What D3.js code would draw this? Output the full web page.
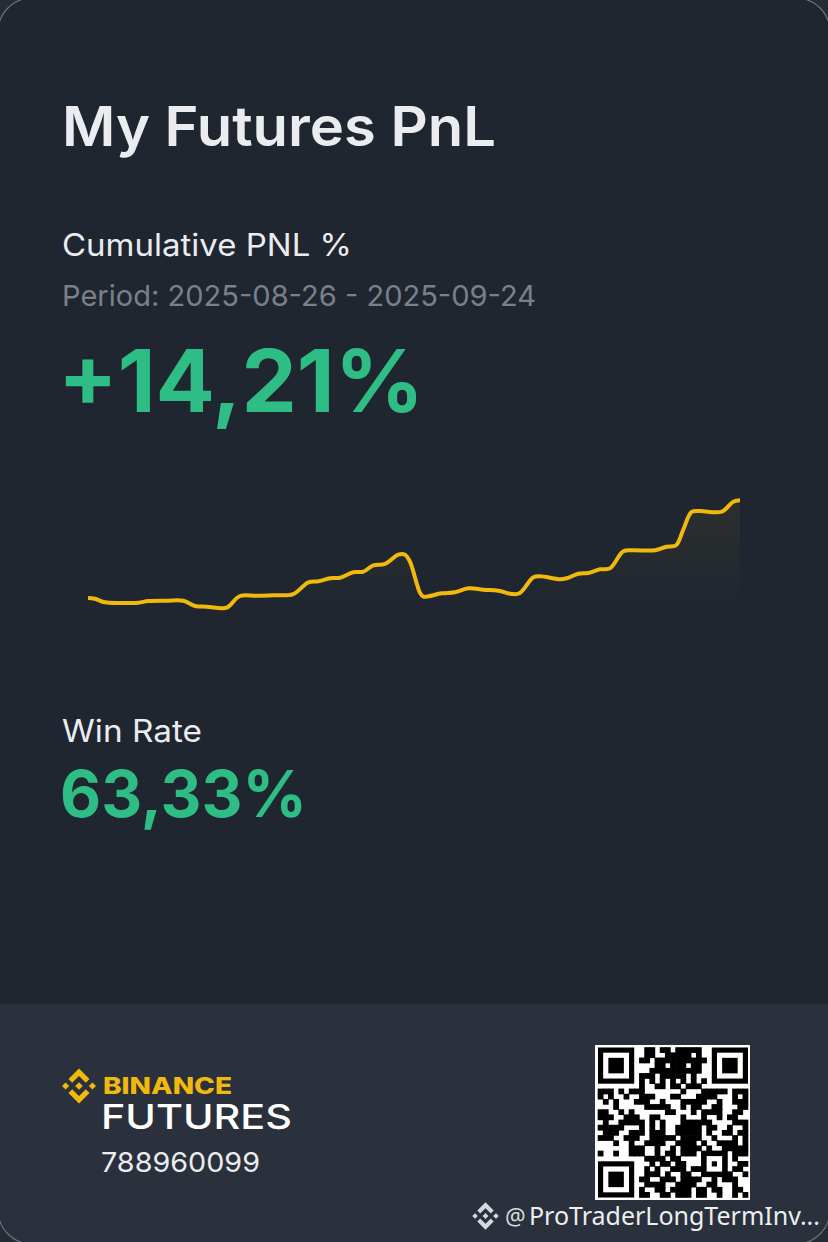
<!DOCTYPE html>
<html><head><meta charset="utf-8">
<script src="https://cdn.jsdelivr.net/npm/d3@7"></script>
<style>html,body{margin:0;padding:0;background:#262c35;overflow:hidden}svg{display:block}</style>
</head><body><svg id="c" width="828" height="1242" xmlns="http://www.w3.org/2000/svg"></svg>
<script>
const titleText = "My Futures PnL";
const metricLabel = "Cumulative PNL %";
const periodLabel = "Period: 2025-08-26 - 2025-09-24";
const pnlLabel = "+14,21%";
const winLabel = "Win Rate";
const winValue = "63,33%";
const brandTop = "BINANCE";
const brandBottom = "FUTURES";
const accountId = "788960099";
const watermark = "ProTraderLongTermInv...";
// days since the period start, and the cumulative PnL % read at that spot of the curve
const pnlDays = [0,.3,.75,1.42,2.24,2.68,3.5,4.24,4.76,5.28,5.8,6.17,6.76,7.5,8.24,9.13,9.8,10.24,10.77,11.21,
  11.8,12.25,12.69,13.21,13.8,14.1,14.32,14.77,14.92,15.15,15.73,16.32,16.92,17.59,18.25,18.85,19.19,19.81,20.11,21,
  21.29,21.81,22.25,22.78,23.22,23.81,24.25,25.22,25.74,26.16,26.47,26.85,27.22,28.19,28.7,29];
const pnlValues = [0,-.10,-.63,-.73,-.68,-.44,-.39,-.39,-1.16,-1.27,-1.45,-1.41,.29,.33,.39,.58,2.28,2.43,2.87,2.95,
  3.74,3.83,4.76,4.95,6.30,6.30,5.28,.73,.19,.25,.68,.83,1.41,1.21,1.06,.58,.68,3.01,3.16,2.72,
  2.87,3.53,3.64,4.17,4.32,6.79,6.94,6.94,7.46,7.67,9.89,12.51,12.65,12.55,14.01,14.21];
const qrDarkCols = [
 [9,10,12,13,15,16,17,18,19],[9,10,13,14,15,16,17,19],[8,9,11,12,13,14,15,16,17,18,19,20],
 [11,12,14,15,16,18,19],[10,11,12,13,14,15,16,17,18,19],[8,9,10,12,13,14,15,16,18],
 [8,10,12,14,16,18,20],[8,11,12,14,15,17,18,19],
 [0,1,2,4,6,7,8,16,20,21,22,23,24,26,27,28],[0,2,5,8,9,10,14,15,19,20,21,22,26,28],
 [1,3,7,8,9,12,16,17,18,19,20,23,26,27,28],[3,9,10,11,12,13,16,18,19,22,23,27,28],
 [0,1,4,6,13,14,18,20,21,22,23,26,27],[0,1,2,5,6,7,10,11,16,20,23,25,26],
 [1,4,5,6,7,8,10,12,16,17,18,19,20,21,26,27,28],[0,1,2,3,4,8,10,12,15,16,17,18,19,21,22,25,28],
 [1,2,3,6,7,8,10,11,12,15,16,17,18,19,21,24,25,27,28],[0,1,2,5,6,7,10,11,12,13,14,16,17,18,19,22,26,28],
 [3,6,9,10,11,12,15,16,17,18,20,23,24,25,26,28],[6,7,8,11,14,16,17,18,19,21,24,25,26,27,28],
 [0,3,6,7,8,11,13,14,16,17,18,20,21,22,23,24,26,27,28],[9,10,11,12,14,15,20,24,26],
 [10,12,13,15,16,20,22,24,27,28],[9,11,14,15,16,18,19,20,24,26,27],
 [9,10,11,13,16,17,20,21,22,23,24,25,28],[8,9,12,13,14,16,17,18,19,22,24,25,26],
 [9,10,11,12,15,16,17,18,21,22,26],[8,11,12,14,15,16,17,19,20,22,23,26,27],
 [8,9,12,13,15,16,17,19,20,23,26,28]];
const qrFinders = [[0,0],[22,0],[0,22]];

const svg = d3.select("#c");
const defs = svg.append("defs");
const grad = defs.append("linearGradient").attr("id","fade").attr("x1",0).attr("x2",0).attr("y1",0).attr("y2",1);
grad.append("stop").attr("offset",0).attr("stop-color","#f0b90b").attr("stop-opacity",0.065);
grad.append("stop").attr("offset",1).attr("stop-color","#f0b90b").attr("stop-opacity",0);

defs.append("clipPath").attr("id","card").append("rect")
  .attr("x",-2).attr("y",-2).attr("width",832).attr("height",1246).attr("rx",34);
const card = svg.append("g").attr("clip-path","url(#card)");
card.append("rect").attr("width",828).attr("height",1242).attr("fill","#1f2630");
card.append("rect").attr("y",1004).attr("width",828).attr("height",238).attr("fill","#2a313d");
svg.append("rect").attr("x",-2).attr("y",-2).attr("width",832).attr("height",1246).attr("rx",34)
  .attr("fill","none").attr("stroke","#ffffff").attr("stroke-opacity",0.35).attr("stroke-width",1.2);

const F = "Inter, 'Noto Sans', sans-serif";
function txt(s,x,y,size,weight,fill,len,fam){
  const t = svg.append("text").attr("x",x).attr("y",y).attr("font-family",fam||F)
    .attr("font-size",size).attr("font-weight",weight).attr("fill",fill).text(s);
  if(len) t.attr("textLength",len).attr("lengthAdjust","spacingAndGlyphs");
  return t;
}
txt(titleText,62,146,55,600,"#eaecef",434);
txt(metricLabel,62,256,31,400,"#eaecef",290);
txt(periodLabel,62,306,29,400,"#7a808a",474);
txt(pnlLabel,58,412,86,700,"#2ebd85",366);
txt(winLabel,62,742,31,400,"#eaecef",140);
txt(winValue,60,817,65,700,"#2ebd85",247);
txt(brandTop,103,1094,23,800,"#f0b90b",129);
txt(brandBottom,101,1129,34,500,"#ffffff",191);
txt(accountId,101,1171.5,27,400,"#eaecef",159);

// chart
const x = d3.scaleLinear().domain([0,29]).range([88,740]);
const y = d3.scaleLinear().domain([0,14.21]).range([598,500.3]);
const rows = pnlDays.map((d,i)=>({d,v:pnlValues[i]}));
const curve = d3.curveCatmullRom.alpha(0.5);
svg.append("path").datum(rows).attr("fill","url(#fade)")
  .attr("d",d3.area().x(r=>x(r.d)).y0(y(d3.min(pnlValues))).y1(r=>y(r.v)).curve(curve));
svg.append("path").datum(rows).attr("fill","none").attr("stroke","#f0b90b").attr("stroke-width",4)
  .attr("stroke-linejoin","round")
  .attr("d",d3.line().x(r=>x(r.d)).y(r=>y(r.v)).curve(curve));

// binance mark
function mark(cx,cy,s,fill){
  const g = svg.append("g").attr("transform",`translate(${cx},${cy}) scale(${s})`).attr("fill",fill);
  const dia=(a,b,r)=>g.append("path").attr("d",`M${a} ${b-r}L${a+r} ${b}L${a} ${b+r}L${a-r} ${b}Z`);
  dia(0,0,3.8);dia(-13.4,0,3.6);dia(13.4,0,3.6);
  g.append("path").attr("d","M0 -17.5L10.5 -7L6.8 -3.3L0 -10L-6.8 -3.3L-10.5 -7Z");
  g.append("path").attr("d","M0 17.5L10.5 7L6.8 3.3L0 10L-6.8 3.3L-10.5 7Z");
}
mark(79,1086,1,"#f0b90b");

// qr
const q = d3.scaleBand().domain(d3.range(29)).range([0,150]);
svg.append("rect").attr("x",595).attr("y",1045).attr("width",155).attr("height",155).attr("fill","#fff");
const qr = svg.append("g").attr("transform","translate(598,1047.5)").attr("fill","#000");
const bw = q.bandwidth();
qrDarkCols.forEach((cols,r)=>cols.forEach(c=>{
  qr.append("rect").attr("x",q(c)-.3).attr("y",q(r)-.3).attr("width",bw+.6).attr("height",bw+.6);
}));
qrFinders.forEach(([c,r])=>{
  qr.append("rect").attr("x",q(c)+bw/2).attr("y",q(r)+bw/2).attr("width",6*bw).attr("height",6*bw).attr("fill","none").attr("stroke","#000").attr("stroke-width",bw);
  qr.append("rect").attr("x",q(c+2)).attr("y",q(r+2)).attr("width",3*bw).attr("height",3*bw);
});
// alignment pattern
qr.append("rect").attr("x",q(20)).attr("y",q(20)).attr("width",5*bw).attr("height",5*bw);
qr.append("rect").attr("x",q(21)).attr("y",q(21)).attr("width",3*bw).attr("height",3*bw).attr("fill","#fff");
qr.append("rect").attr("x",q(22)).attr("y",q(22)).attr("width",bw).attr("height",bw);

// watermark
mark(485.5,1216,0.78,"#d5d8dc");
txt("@",505,1225,23,400,"#d5d8dc",null,"'Noto Sans'");
txt(watermark,529,1225,25,400,"#eceef0",291,"'Noto Sans'");
</script></body></html>
